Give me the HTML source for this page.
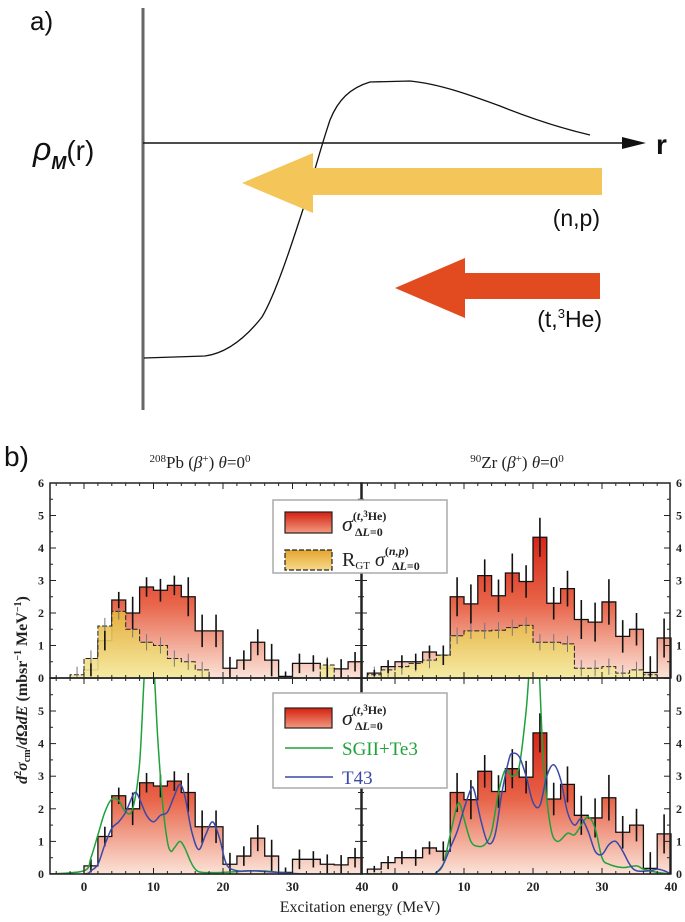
<!DOCTYPE html>
<html><head><meta charset="utf-8"><style>
html,body{margin:0;padding:0;background:#fff;}
svg{display:block;}
.ser{font-family:"Liberation Serif",serif;}
.san{font-family:"Liberation Sans","DejaVu Sans",sans-serif;}
</style></head><body>
<svg id="fig" width="685" height="922" viewBox="0 0 685 922" xmlns="http://www.w3.org/2000/svg">
<defs>
<linearGradient id="gRed" gradientUnits="userSpaceOnUse" x1="0" y1="530" x2="0" y2="678">
<stop offset="0" stop-color="#d41f12"/><stop offset="0.5" stop-color="#e8654a"/><stop offset="1" stop-color="#fbe3d8"/></linearGradient>
<linearGradient id="gRed2" gradientUnits="userSpaceOnUse" x1="0" y1="726" x2="0" y2="874">
<stop offset="0" stop-color="#d41f12"/><stop offset="0.5" stop-color="#e8654a"/><stop offset="1" stop-color="#fbe3d8"/></linearGradient>
<linearGradient id="gYel" gradientUnits="userSpaceOnUse" x1="0" y1="610" x2="0" y2="678">
<stop offset="0" stop-color="#e6b43a"/><stop offset="1" stop-color="#f4ec9e"/></linearGradient>
<linearGradient id="gRedL" x1="0" y1="0" x2="0" y2="1"><stop offset="0" stop-color="#d4200f"/><stop offset="1" stop-color="#f29a80"/></linearGradient>
<linearGradient id="gYelL" x1="0" y1="0" x2="0" y2="1"><stop offset="0" stop-color="#e3a52e"/><stop offset="1" stop-color="#f7d98a"/></linearGradient>
<clipPath id="clipB"><rect x="50" y="678" width="620" height="196"/></clipPath>
</defs>

<g>
<text x="30" y="30" class="san" font-size="26" fill="#111">a)</text>
<line x1="143" y1="8" x2="143" y2="410" stroke="#666" stroke-width="3"/>
<line x1="143" y1="143" x2="628" y2="143" stroke="#111" stroke-width="1.5"/>
<polygon points="622,137 646,143 622,149" fill="#111"/>
<text x="656" y="154" class="san" font-size="28" font-weight="bold" fill="#111">r</text>
<text x="33" y="160" class="san" font-size="32" font-style="italic" fill="#111">ρ<tspan font-size="18" font-weight="bold" dy="9">M</tspan><tspan dy="-9" font-size="28" font-style="normal">(r)</tspan></text>
<path d="M144,358 L205,356 C220,354 240,345 262,317 C275,295 290,250 306,200 C315,170 320,150 330,120 C338,100 350,88 370,82 L410,81 C440,84 470,95 500,106 C530,118 560,128 590,135" fill="none" stroke="#111" stroke-width="1.3"/>
<polygon points="242,183 313,153 313,168 602,168 602,195 313,195 313,213" fill="#f4c65a"/>
<polygon points="395,288 465,258 465,273 600,273 600,299 465,299 465,318" fill="#e24a20"/>
<text x="600" y="226" text-anchor="end" class="san" font-size="23" fill="#111">(n,p)</text>
<text x="602" y="327" text-anchor="end" class="san" font-size="23" fill="#111">(t,<tspan font-size="13" dy="-9">3</tspan><tspan dy="9">He)</tspan></text>
</g>

<text x="4" y="466" class="san" font-size="28" fill="#111">b)</text>
<text x="200" y="468" text-anchor="middle" class="ser" font-size="17" fill="#222"><tspan font-size="11" dy="-6">208</tspan><tspan dy="6">Pb  (</tspan><tspan font-style="italic">β</tspan><tspan font-size="11" dy="-6">+</tspan><tspan dy="6">)  </tspan><tspan font-style="italic">θ</tspan>=0<tspan font-size="11" dy="-6">0</tspan></text>
<text x="517" y="468" text-anchor="middle" class="ser" font-size="17" fill="#222"><tspan font-size="11" dy="-6">90</tspan><tspan dy="6">Zr  (</tspan><tspan font-style="italic">β</tspan><tspan font-size="11" dy="-6">+</tspan><tspan dy="6">)  </tspan><tspan font-style="italic">θ</tspan>=0<tspan font-size="11" dy="-6">0</tspan></text>
<text transform="translate(27,690) rotate(-90)" text-anchor="middle" class="ser" font-size="16" font-weight="bold" fill="#222"><tspan font-style="italic">d</tspan><tspan font-size="10" dy="-6">2</tspan><tspan dy="6" font-style="italic">σ</tspan><tspan font-size="10" dy="3">cm</tspan><tspan dy="-3">/</tspan><tspan font-style="italic">d</tspan>Ω<tspan font-style="italic">dE</tspan>  (mbsr<tspan font-size="10" dy="-6">−1</tspan><tspan dy="6"> MeV</tspan><tspan font-size="10" dy="-6">−1</tspan><tspan dy="6">)</tspan></text>
<text x="360" y="912" text-anchor="middle" class="ser" font-size="16" fill="#222">Excitation energy (MeV)</text>

<g id="plot"></g>

<g>
<rect x="273" y="500" width="174" height="73" fill="#fff" stroke="#aaa" stroke-width="1.5"/>
<rect x="285" y="512" width="47" height="21" fill="url(#gRedL)" stroke="#222" stroke-width="1.2"/>
<rect x="285" y="550" width="47" height="20" fill="url(#gYelL)" stroke="#222" stroke-width="1.2" stroke-dasharray="5,2"/>
<text x="342" y="531" class="ser" font-size="22" fill="#222"><tspan font-style="italic">σ</tspan><tspan font-size="12" font-weight="bold" dy="-11">(<tspan font-style="italic">t</tspan>,<tspan font-size="9" dy="-3">3</tspan><tspan dy="3">He)</tspan></tspan><tspan font-size="12" font-weight="bold" x="355" dy="16">Δ<tspan font-style="italic">L</tspan>=0</tspan></text>
<text x="342" y="566" class="ser" font-size="20" fill="#222">R<tspan font-size="11" dy="3">GT</tspan><tspan dy="-3" font-style="italic"> σ</tspan><tspan font-size="12" font-weight="bold" dy="-11">(<tspan font-style="italic">n,p</tspan>)</tspan><tspan font-size="12" font-weight="bold" x="392" dy="15">Δ<tspan font-style="italic">L</tspan>=0</tspan></text>
</g>
<g>
<rect x="273" y="693" width="174" height="95" fill="#fff" stroke="#aaa" stroke-width="1.5"/>
<rect x="285" y="708" width="47" height="20" fill="url(#gRedL)" stroke="#222" stroke-width="1.2"/>
<text x="342" y="725" class="ser" font-size="22" fill="#222"><tspan font-style="italic">σ</tspan><tspan font-size="12" font-weight="bold" dy="-11">(<tspan font-style="italic">t</tspan>,<tspan font-size="9" dy="-3">3</tspan><tspan dy="3">He)</tspan></tspan><tspan font-size="12" font-weight="bold" x="355" dy="16">Δ<tspan font-style="italic">L</tspan>=0</tspan></text>
<line x1="285" y1="748" x2="333" y2="748" stroke="#1fa23a" stroke-width="1.6"/>
<text x="342" y="755" class="ser" font-size="19" fill="#1fa23a">SGII+Te3</text>
<line x1="285" y1="777" x2="333" y2="777" stroke="#3a48a8" stroke-width="1.6"/>
<text x="342" y="784" class="ser" font-size="19" fill="#3a48a8">T43</text>
</g>
</svg>

<script>
// ---- data ----
const pbRedStart = 0;
const pbRed = [0.25,1.15,2.4,2.0,2.8,2.7,2.85,2.5,1.45,1.45,0.3,0.55,1.1,0.55,0.05,0.45,0.45,0.3,0.28,0.5];
const pbRedErr = [0.2,0.3,0.25,0.5,0.3,0.35,0.3,0.6,0.5,0.5,0.35,0.3,0.4,0.5,0.15,0.3,0.25,0.3,0.3,0.3];
const pbYelStart = -2;
const pbYel = [0.1,0.6,1.6,2.05,1.5,1.1,1.0,0.6,0.5,0.25,0,0,0,0,0,0,0,0,0.4,0,0];
const zrRedStart = -4;
const zrRed = [0.15,0.35,0.5,0.5,0.8,0.7,2.5,2.28,3.15,2.53,3.23,2.97,4.33,2.3,2.75,1.8,1.72,2.34,1.28,1.5,0.17,1.23];
const zrRedErr = [0.1,0.2,0.2,0.25,0.2,0.3,0.6,0.6,0.5,0.5,0.6,0.5,0.6,0.5,0.55,0.6,0.6,0.7,0.5,0.5,0.5,0.6];
const zrYelStart = -4;
const zrYel = [0.1,0.25,0.35,0.45,0.55,0.7,1.3,1.45,1.45,1.47,1.55,1.62,1.1,1.1,1.05,0.3,0.3,0.35,0.15,0.25,0.1,0];
const pbGreenE = [-5,0,1,2,3,4,5,6,7,8,8.7,9.3,10,10.6,11.3,12,12.5,13,13.8,14.5,15.3,16,17,20,25,28,30,40];
const pbGreenV = [0,0.1,0.5,1.2,1.9,2.3,2.25,1.9,2.0,3.4,6.2,7.5,6.5,4.2,2.2,1.0,0.7,0.8,1.0,0.8,0.4,0.15,0.05,0.05,0.1,0.05,0,0];
const pbBlueE = [-5,0,1,2,3,4,5,6,7,7.5,8,9,10,11,12,13,13.8,14.5,15.5,16.5,17.5,18.5,19.5,20.5,22,24,28,32,40];
const pbBlueV = [0,0,0.1,0.3,0.9,1.4,1.6,1.9,2.4,2.5,2.3,1.8,1.6,1.8,1.9,2.4,2.75,2.4,1.3,0.75,1.2,1.6,1.1,0.3,0.1,0.1,0.05,0,0];
const zrGreenE = [-5,5,6,7,8,9,9.5,10,11,12,13,14,15,16,17,18,19,19.6,20.2,20.8,21.5,22.5,23.5,25,26,27,28,29,30,31,33,35,36,38,40];
const zrGreenV = [0,0,0.05,0.3,1.2,2.1,2.1,1.7,1.0,0.85,0.9,1.3,2.5,3.2,3.0,3.3,5,6.6,7,6.6,3.5,1.5,1.0,1.25,1.2,1.5,1.75,1.4,0.5,0.3,0.2,0.25,0.15,0.05,0];
const zrBlueE = [-5,5,6,7,8,9,10,11,11.5,12.5,13.5,14.5,15.5,16.5,17,18,19,20,21,22,23,24,25,26,27,28,29,30,31,32,33,34,35,37,38,39,40];
const zrBlueV = [0,0,0.05,0.3,0.8,1.3,2.0,2.6,2.55,1.6,0.95,1.2,2.5,3.5,3.7,3.6,3.0,2.2,2.1,3.0,3.35,2.9,1.9,1.5,1.7,1.3,0.7,0.6,0.9,1.0,0.7,0.3,0.1,0.1,0.15,0.1,0];
const yTicks = [0,1,2,3,4,5,6];
const xTicks = [0,10,20,30,40];

const NS = "http://www.w3.org/2000/svg";
const root = document.getElementById('plot');
const xL = e => 84 + e*6.95;
const xR = e => 395 + e*6.9;
const yT = v => 678 - v*32.5;
const yB = v => 874 - v*32.6;
function mk(tag, attrs, parent){const el=document.createElementNS(NS,tag);for(const k in attrs)el.setAttribute(k,attrs[k]);(parent||root).appendChild(el);return el;}
function stepPath(start, vals, xf, yf){
  let d = 'M'+xf(start)+','+yf(0);
  vals.forEach((v,i)=>{d+=' L'+xf(start+2*i)+','+yf(v)+' L'+xf(start+2*i+2)+','+yf(v);});
  d += ' L'+xf(start+2*vals.length)+','+yf(0)+' Z';
  return d;
}
function smooth(E,V,xf,yf){
  const p=E.map((e,i)=>[xf(e),yf(V[i])]);
  let d='M'+p[0][0]+','+p[0][1];
  for(let i=0;i<p.length-1;i++){
    const p0=p[Math.max(i-1,0)],p1=p[i],p2=p[i+1],p3=p[Math.min(i+2,p.length-1)];
    const c1=[p1[0]+(p2[0]-p0[0])/6,p1[1]+(p2[1]-p0[1])/6];
    const c2=[p2[0]-(p3[0]-p1[0])/6,p2[1]-(p3[1]-p1[1])/6];
    d+=' C'+c1[0]+','+c1[1]+' '+c2[0]+','+c2[1]+' '+p2[0]+','+p2[1];
  }
  return d;
}
function errs(start, vals, er, xf, yf, name, col, w){
  vals.forEach((v,i)=>{
    if(v<=0)return;
    const x=xf(start+2*i+1);
    const l=mk('line',{x1:x,x2:x,y1:yf(v+er[i]),y2:yf(Math.max(v-er[i],0)),stroke:col,'stroke-width':w});
    
    
  });
}

const panels = [
  {xf:xL,yf:yT,red:pbRed,rs:pbRedStart,er:pbRedErr,yel:pbYel,ys:pbYelStart,nm:'pb-top',grad:'gRed'},
  {xf:xR,yf:yT,red:zrRed,rs:zrRedStart,er:zrRedErr,yel:zrYel,ys:zrYelStart,nm:'zr-top',grad:'gRed'},
  {xf:xL,yf:yB,red:pbRed,rs:pbRedStart,er:pbRedErr,nm:'pb-bottom',grad:'gRed2',gE:pbGreenE,gV:pbGreenV,bE:pbBlueE,bV:pbBlueV},
  {xf:xR,yf:yB,red:zrRed,rs:zrRedStart,er:zrRedErr,nm:'zr-bottom',grad:'gRed2',gE:zrGreenE,gV:zrGreenV,bE:zrBlueE,bV:zrBlueV}
];
panels.forEach(P=>{
  const h=mk('path',{d:stepPath(P.rs,P.red,P.xf,P.yf),fill:'url(#'+P.grad+')',stroke:'#111','stroke-width':1.3});
  
  
  if(P.yel){
    const y=mk('path',{d:stepPath(P.ys,P.yel,P.xf,P.yf),fill:'url(#gYel)','fill-opacity':0.9,stroke:'#222','stroke-width':1,'stroke-dasharray':'5,2'});
    
    
    errs(P.ys,P.yel,P.yel.map(()=>0.25),P.xf,P.yf,P.nm+'-np-error-bar','#777',1);
  }
  errs(P.rs,P.red,P.er,P.xf,P.yf,P.nm+'-error-bar','#111',1.6);
  if(P.gE){
    const g=mk('path',{d:smooth(P.gE,P.gV,P.xf,P.yf),fill:'none',stroke:'#1fa23a','stroke-width':1.5,'clip-path':'url(#clipB)'});
    
    
    const b=mk('path',{d:smooth(P.bE,P.bV,P.xf,P.yf),fill:'none',stroke:'#3a48a8','stroke-width':1.5,'clip-path':'url(#clipB)'});
    
    
  }
});

[[50,483,312,195],[361,483,309,195],[50,678,312,196],[361,678,309,196]].forEach(r=>{
  const f=mk('rect',{x:r[0],y:r[1],width:r[2],height:r[3],fill:'none',stroke:'#222','stroke-width':1.5});
  
  
});
[[yT,483],[yB,678]].forEach(([yf,top])=>{
  for(let v=0; v<=6; v+=0.5){
    const y=yf(v); if(y<top-0.5)continue;
    const len = Number.isInteger(v)?6:3;
    [[50,len],[670,-len],[361,len],[361,-len]].forEach(([x,l])=>{mk('line',{x1:x,x2:x+l,y1:y,y2:y,stroke:'#222','stroke-width':1});});
  }
  yTicks.forEach(v=>{
    const y=yf(v); if(y<top-0.5)return;
    if(yf===yB && v===6)return;
    const t=mk('text',{x:44,y:y+4,'text-anchor':'end','font-size':12,'font-weight':'bold',fill:'#222','font-family':'Liberation Serif, serif'});
    t.textContent=v;
    
    
    const t2=mk('text',{x:676,y:y+4,'font-size':12,'font-weight':'bold',fill:'#222','font-family':'Liberation Serif, serif'});
    t2.textContent=v;
    
    
  });
});
[[xL,50,362],[xR,361,670]].forEach(([xf,a,b])=>{
  for(let e=-4;e<=40;e+=2){
    const x=xf(e); if(x<a||x>b)continue;
    const len=(e%10===0)?6:3;
    [[483,len],[678,-len],[678,len],[874,-len]].forEach(([y,l])=>{mk('line',{x1:x,x2:x,y1:y,y2:y+l,stroke:'#222','stroke-width':1});});
  }
  xTicks.forEach(e=>{
    const t=mk('text',{x:xf(e),y:891,'text-anchor':'middle','font-size':13,'font-weight':'bold',fill:'#222','font-family':'Liberation Serif, serif'});
    t.textContent=e;
    
    
  });
});
</script>
</body></html>
